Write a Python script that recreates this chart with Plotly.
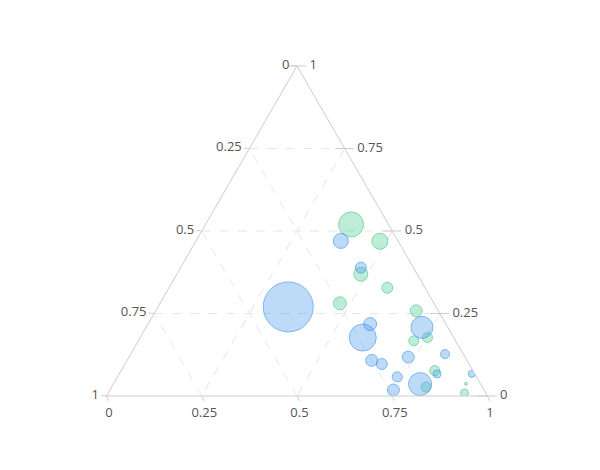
import plotly.graph_objects as go

# ternary components (a = top, b = bottom-left, c = bottom-right)
blue_a = [0.270, 0.470, 0.389, 0.177, 0.218, 0.108, 0.097, 0.118, 0.058, 0.018, 0.208, 0.036, 0.127, 0.067, 0.067]
blue_c = [0.342, 0.380, 0.473, 0.584, 0.583, 0.642, 0.674, 0.733, 0.734, 0.744, 0.724, 0.805, 0.825, 0.834, 0.925]
blue_size = [50, 15, 11, 27, 13, 12, 11, 12, 10, 12, 22, 23, 9, 8, 7]

green_a = [0.520, 0.469, 0.369, 0.328, 0.281, 0.258, 0.167, 0.177, 0.077, 0.027, 0.037, 0.009]
green_c = [0.382, 0.483, 0.483, 0.573, 0.472, 0.684, 0.723, 0.754, 0.823, 0.825, 0.925, 0.935]
green_size = [25, 16, 14, 11, 13, 12, 10, 10, 10, 10, 3, 8]

tick_vals = [0, 0.25, 0.5, 0.75, 1]
tick_text = ["1", "0.75", "0.5", "0.25", "0"]
right_vals = [0, 0.25, 0.5, 0.75, 1]
right_text = ["0", "0.25", "0.5", "0.75", "1"]


def rest(a, c):
    return [round(1 - x - y, 3) for x, y in zip(a, c)]


fig = go.Figure()
fig.add_trace(go.Scatterternary(
    a=green_a, b=rest(green_a, green_c), c=green_c,
    mode="markers",
    marker=dict(size=green_size, sizemode="diameter",
                color="rgba(75,205,145,0.52)",
                line=dict(color="rgba(70,195,140,0.95)", width=1)),
    hoverinfo="skip"
))
fig.add_trace(go.Scatterternary(
    a=blue_a, b=rest(blue_a, blue_c), c=blue_c,
    mode="markers",
    marker=dict(size=blue_size, sizemode="diameter",
                color="rgba(75,158,240,0.52)",
                line=dict(color="rgba(65,145,225,0.95)", width=1)),
    hoverinfo="skip"
))
# right-edge labels, written horizontally like the reference
fig.add_trace(go.Scatterternary(
    a=right_vals, b=[0] * len(right_vals), c=[1 - v for v in right_vals],
    mode="markers+text", text=[" " + t for t in right_text], textposition="middle right",
    textfont=dict(size=13, color="#555555"),
    marker=dict(symbol="line-ew", size=13, line=dict(color="#cccccc", width=1)),
    cliponaxis=False, hoverinfo="skip"
))

axis = dict(
    title=dict(text=""),
    tickmode="array", tickvals=tick_vals, ticktext=tick_text,
    ticks="outside", ticklen=5, tickcolor="#cccccc",
    linecolor="#cccccc", linewidth=1,
    gridcolor="#e6e6e6", griddash="dash", gridwidth=1,
    tickfont=dict(size=13, color="#555555"),
    showgrid=True, min=0
)
caxis = dict(axis, ticks="", showticklabels=False)

fig.update_layout(
    width=600, height=470,
    margin=dict(l=50, r=72, t=58, b=82),
    paper_bgcolor="white",
    font=dict(family="Open Sans", size=13, color="#555555"),
    showlegend=False,
    ternary=dict(bgcolor="white", sum=1, aaxis=axis, baxis=axis, caxis=caxis)
)

fig.write_html("out.html")
